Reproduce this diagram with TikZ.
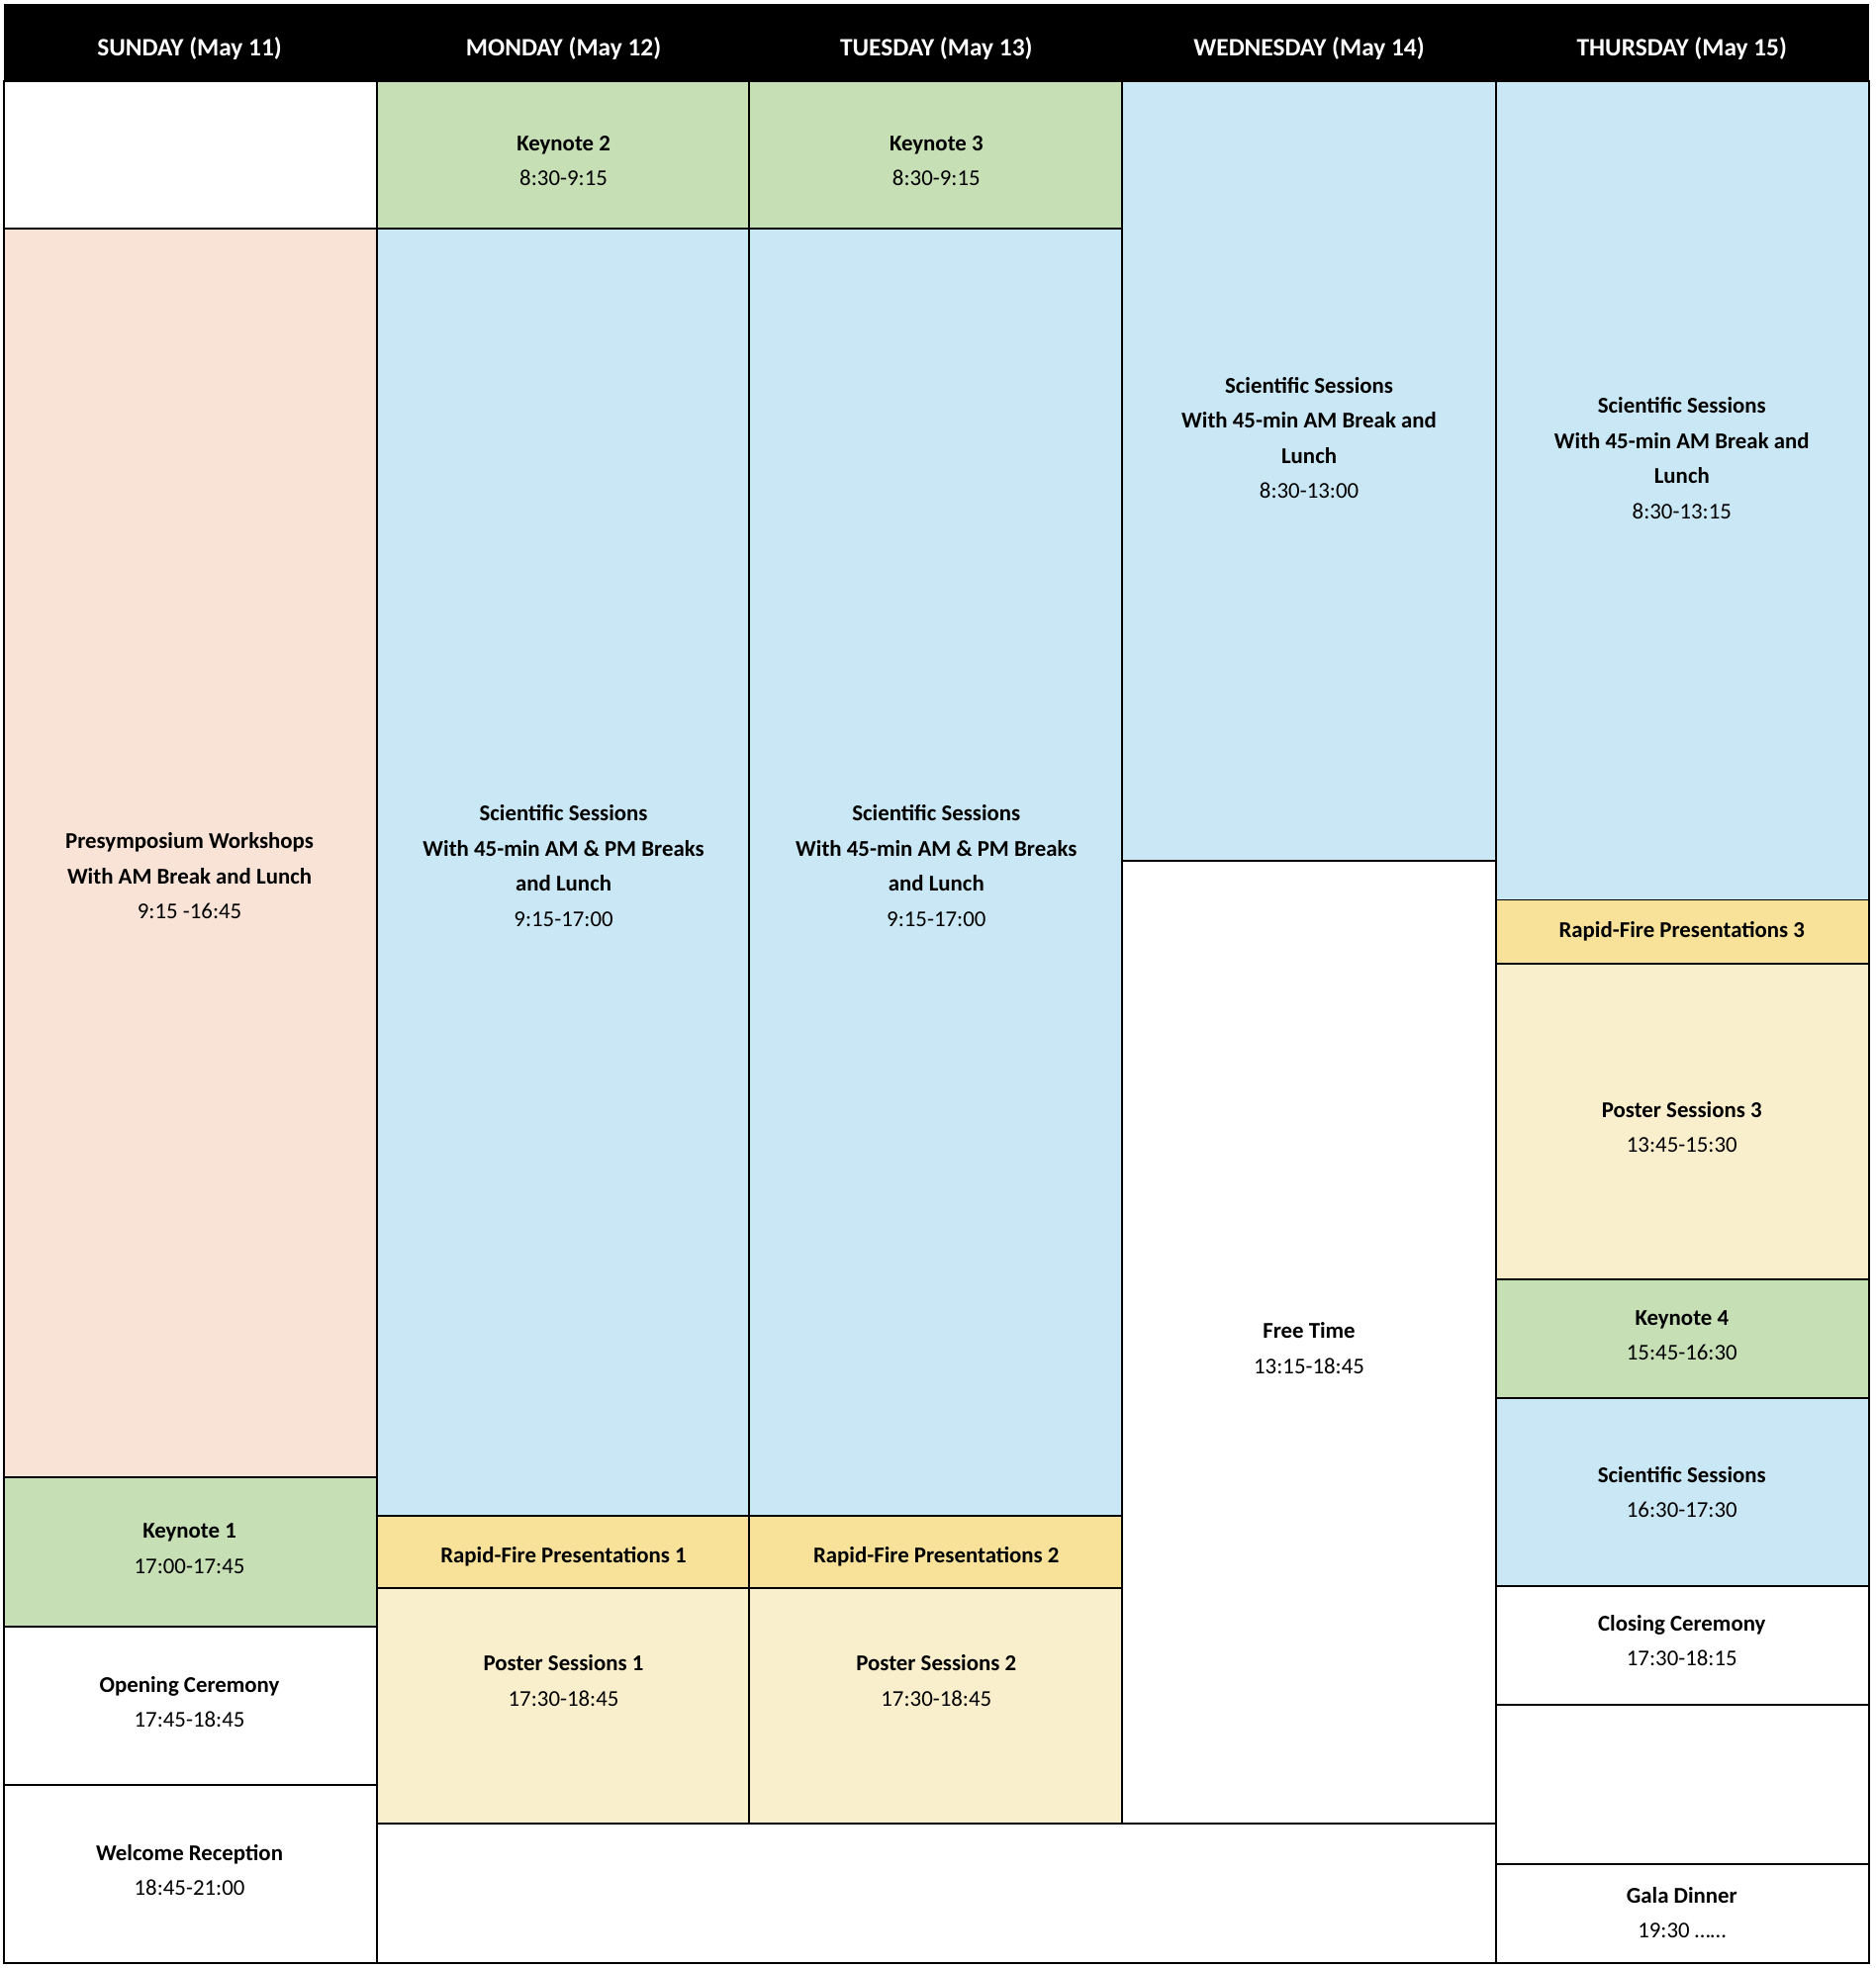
\documentclass[tikz,border=0pt]{standalone}
\usepackage{fontspec}
\setmainfont{Carlito}
\definecolor{peach}{HTML}{F9E2D6}
\definecolor{kgreen}{HTML}{C6DFB5}
\definecolor{sblue}{HTML}{C9E7F4}
\definecolor{ryel}{HTML}{F8E29A}
\definecolor{pyel}{HTML}{FAEFCC}
\tikzset{cellbox/.style={draw=black,line width=1.5pt},
 txt/.style={align=center,font=\fontsize{18}{28}\selectfont},
 hdr/.style={text=white,font=\fontsize{20}{24}\selectfont\bfseries}}
\newcommand{\cellR}[6]{\fill[#5] (#1,#2) rectangle (#3,#4);\draw[cellbox] (#1,#2) rectangle (#3,#4);\coordinate (#6) at ({(#1+#3)/2},{(#2+#4)/2});}
\begin{document}
\begin{tikzpicture}[x=1pt,y=-1pt]
\useasboundingbox (0,0) rectangle (1494,1568);
\fill[white] (0,0) rectangle (1494,1568);
% header
\fill[black] (3,3) rectangle (1489,65);
\foreach \x/\t/\n in {151/SUNDAY (May 11)/h1,449/MONDAY (May 12)/h2,746/TUESDAY (May 13)/h3,1043/WEDNESDAY (May 14)/h4,1340/THURSDAY (May 15)/h5}
 \node[hdr] (\n) at (\x,39) {\t};
% Sunday
\cellR{3}{65}{300}{182}{white}{s0}
\cellR{3}{182}{300}{1177}{peach}{s1}
\cellR{3}{1177}{300}{1296}{kgreen}{s2}
\cellR{3}{1296}{300}{1422}{white}{s3}
\cellR{3}{1422}{300}{1564}{white}{s4}
% Monday
\cellR{300}{65}{597}{182}{kgreen}{m0}
\cellR{300}{182}{597}{1208}{sblue}{m1}
\cellR{300}{1208}{597}{1265}{ryel}{m2}
\cellR{300}{1265}{597}{1453}{pyel}{m3}
% Tuesday
\cellR{597}{65}{894}{182}{kgreen}{t0}
\cellR{597}{182}{894}{1208}{sblue}{t1}
\cellR{597}{1208}{894}{1265}{ryel}{t2}
\cellR{597}{1265}{894}{1453}{pyel}{t3}
% Wednesday
\cellR{894}{65}{1192}{686}{sblue}{w0}
\cellR{894}{686}{1192}{1453}{white}{w1}
\cellR{300}{1453}{1192}{1564}{white}{bot}
% Thursday
\cellR{1192}{65}{1489}{717}{sblue}{r0}
\cellR{1192}{717}{1489}{768}{ryel}{r1}
\cellR{1192}{768}{1489}{1019}{pyel}{r2}
\cellR{1192}{1019}{1489}{1114}{kgreen}{r3}
\cellR{1192}{1114}{1489}{1264}{sblue}{r4}
\cellR{1192}{1264}{1489}{1358}{white}{r5}
\cellR{1192}{1358}{1489}{1485}{white}{r6}
\cellR{1192}{1485}{1489}{1564}{white}{r7}
% texts
\node[txt] (ts1) at (151,698) {\textbf{Presymposium Workshops}\\\textbf{With AM Break and Lunch}\\9:15 -16:45};
\node[txt] (ts2) at (151,1234) {\textbf{Keynote 1}\\17:00-17:45};
\node[txt] (ts3) at (151,1356) {\textbf{Opening Ceremony}\\17:45-18:45};
\node[txt] (ts4) at (151,1490) {\textbf{Welcome Reception}\\18:45-21:00};
\node[txt] (tm0) at (449,128) {\textbf{Keynote 2}\\8:30-9:15};
\node[txt] (tm1) at (449,690) {\textbf{Scientific Sessions}\\\textbf{With 45-min AM \& PM Breaks}\\\textbf{and Lunch}\\9:15-17:00};
\node[txt] (tm2) at (449,1240) {\textbf{Rapid-Fire Presentations 1}};
\node[txt] (tm3) at (449,1339) {\textbf{Poster Sessions 1}\\17:30-18:45};
\node[txt] (tt0) at (746,128) {\textbf{Keynote 3}\\8:30-9:15};
\node[txt] (tt1) at (746,690) {\textbf{Scientific Sessions}\\\textbf{With 45-min AM \& PM Breaks}\\\textbf{and Lunch}\\9:15-17:00};
\node[txt] (tt2) at (746,1240) {\textbf{Rapid-Fire Presentations 2}};
\node[txt] (tt3) at (746,1339) {\textbf{Poster Sessions 2}\\17:30-18:45};
\node[txt] (tw0) at (1043,349) {\textbf{Scientific Sessions}\\\textbf{With 45-min AM Break and}\\\textbf{Lunch}\\8:30-13:00};
\node[txt] (tw1) at (1043,1074) {\textbf{Free Time}\\13:15-18:45};
\node[txt] (tr0) at (1340,365) {\textbf{Scientific Sessions}\\\textbf{With 45-min AM Break and}\\\textbf{Lunch}\\8:30-13:15};
\node[txt] (tr1) at (1340,742) {\textbf{Rapid-Fire Presentations 3}};
\node[txt] (tr2) at (1340,898) {\textbf{Poster Sessions 3}\\13:45-15:30};
\node[txt] (tr3) at (1340,1064) {\textbf{Keynote 4}\\15:45-16:30};
\node[txt] (tr4) at (1340,1189) {\textbf{Scientific Sessions}\\16:30-17:30};
\node[txt] (tr5) at (1340,1307) {\textbf{Closing Ceremony}\\17:30-18:15};
\node[txt] (tr7) at (1340,1524) {\textbf{Gala Dinner}\\19:30 ……};
\end{tikzpicture}
\end{document}
